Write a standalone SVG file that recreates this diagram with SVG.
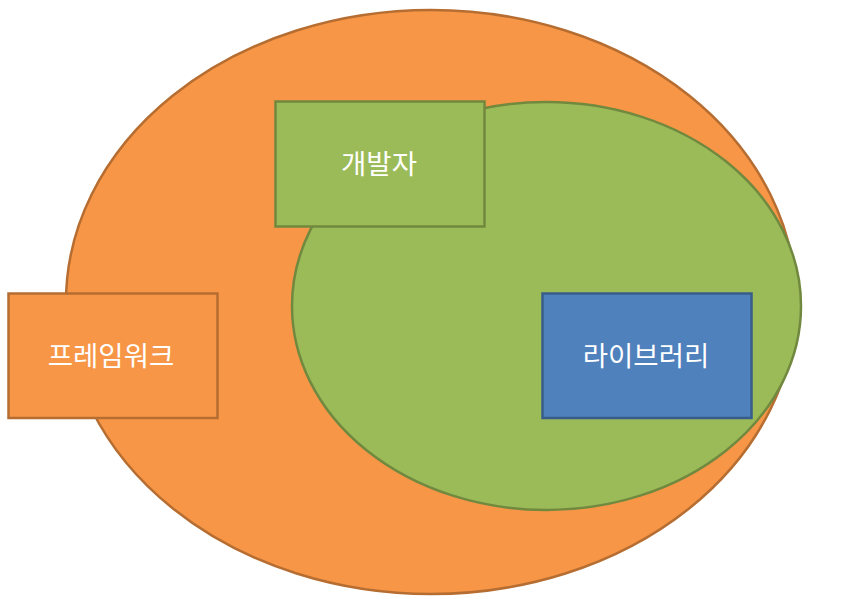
<svg xmlns="http://www.w3.org/2000/svg" width="846" height="604" viewBox="0 0 846 604">
<style>
.t{font-family:"Noto Sans CJK KR","Noto Sans",sans-serif;font-size:27.5px;fill:#fff;text-anchor:middle;dominant-baseline:central}
.o{fill:#F79646;stroke:#B66D31;stroke-width:2.5}
.g{fill:#9BBB59;stroke:#71893F;stroke-width:2.5}
.b{fill:#4F81BD;stroke:#385D8A;stroke-width:2.5}
</style>
<g id="framework-area"><ellipse class="o" cx="431" cy="302" rx="365" ry="292"/></g>
<g id="library-area"><ellipse class="g" cx="546.5" cy="306" rx="254.5" ry="204"/></g>
<g id="connectors"></g>
<g id="developer"><rect class="g" x="275.5" y="101.5" width="209" height="125"/><text class="t" x="379" y="162">개발자</text></g>
<g id="framework"><rect class="o" x="8.5" y="293.5" width="209" height="124.5"/><text class="t" x="111" y="354">프레임워크</text></g>
<g id="library"><rect class="b" x="542.5" y="293.5" width="209" height="124.5"/><text class="t" x="646" y="354">라이브러리</text></g>
</svg>
